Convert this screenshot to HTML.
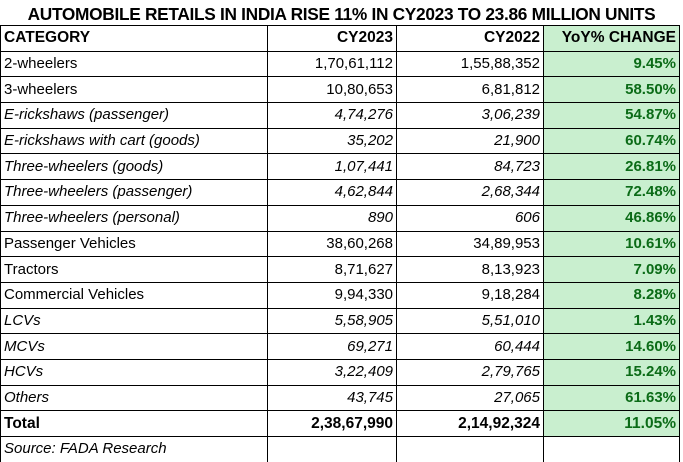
<!DOCTYPE html>
<html><head><style>
body{margin:0;width:683px;height:459px;background:#fff;font-family:"Liberation Sans",Arial,sans-serif;overflow:hidden;position:relative}
.t{position:absolute;left:0;top:0;width:683px;height:25px;line-height:28px;text-align:center;font-weight:bold;font-size:17.3px;color:#000;letter-spacing:-0.3px}
table{position:absolute;left:0;top:25px;border-collapse:collapse;table-layout:fixed}
td{border:1px solid #000;height:24.7px;padding:0 3px;font-size:15px;white-space:nowrap;line-height:24px}
td.n{text-align:right}
td.g{background:#c9efcf;color:#0b6b17;font-weight:bold;text-align:right}
tr.h td{font-weight:bold;font-size:15.5px}
tr.h td.g{background:#c9efcf;color:#000;text-align:right}
.i td:nth-child(-n+3){font-style:italic}
tr.s td{border-bottom:none}
</style></head><body>
<div class="t">AUTOMOBILE RETAILS IN INDIA RISE 11% IN CY2023 TO 23.86 MILLION UNITS</div>
<table>
<colgroup><col style="width:267px"><col style="width:129px"><col style="width:147px"><col style="width:136px"></colgroup>
<tr class="h"><td>CATEGORY</td><td class="n">CY2023</td><td class="n">CY2022</td><td class="g">YoY% CHANGE</td></tr>
<tr><td>2-wheelers</td><td class="n">1,70,61,112</td><td class="n">1,55,88,352</td><td class="g">9.45%</td></tr>
<tr><td>3-wheelers</td><td class="n">10,80,653</td><td class="n">6,81,812</td><td class="g">58.50%</td></tr>
<tr class="i"><td>E-rickshaws (passenger)</td><td class="n">4,74,276</td><td class="n">3,06,239</td><td class="g">54.87%</td></tr>
<tr class="i"><td>E-rickshaws with cart (goods)</td><td class="n">35,202</td><td class="n">21,900</td><td class="g">60.74%</td></tr>
<tr class="i"><td>Three-wheelers (goods)</td><td class="n">1,07,441</td><td class="n">84,723</td><td class="g">26.81%</td></tr>
<tr class="i"><td>Three-wheelers (passenger)</td><td class="n">4,62,844</td><td class="n">2,68,344</td><td class="g">72.48%</td></tr>
<tr class="i"><td>Three-wheelers (personal)</td><td class="n">890</td><td class="n">606</td><td class="g">46.86%</td></tr>
<tr><td>Passenger Vehicles</td><td class="n">38,60,268</td><td class="n">34,89,953</td><td class="g">10.61%</td></tr>
<tr><td>Tractors</td><td class="n">8,71,627</td><td class="n">8,13,923</td><td class="g">7.09%</td></tr>
<tr><td>Commercial Vehicles</td><td class="n">9,94,330</td><td class="n">9,18,284</td><td class="g">8.28%</td></tr>
<tr class="i"><td>LCVs</td><td class="n">5,58,905</td><td class="n">5,51,010</td><td class="g">1.43%</td></tr>
<tr class="i"><td>MCVs</td><td class="n">69,271</td><td class="n">60,444</td><td class="g">14.60%</td></tr>
<tr class="i"><td>HCVs</td><td class="n">3,22,409</td><td class="n">2,79,765</td><td class="g">15.24%</td></tr>
<tr class="i"><td>Others</td><td class="n">43,745</td><td class="n">27,065</td><td class="g">61.63%</td></tr>
<tr class="h"><td>Total</td><td class="n">2,38,67,990</td><td class="n">2,14,92,324</td><td class="g" style="text-align:right;color:#0b6b17">11.05%</td></tr>
<tr class="s"><td style="font-style:italic">Source: FADA Research</td><td></td><td></td><td></td></tr>
</table>
</body></html>
